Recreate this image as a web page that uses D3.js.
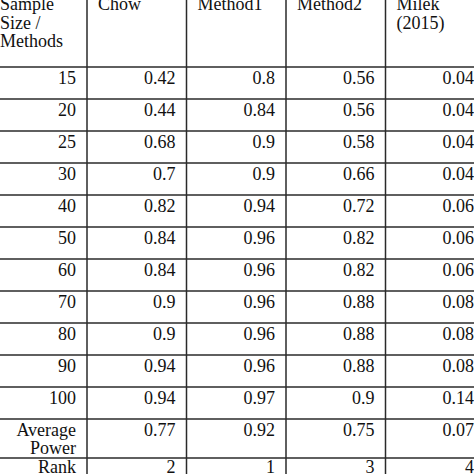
<!DOCTYPE html>
<html><head><meta charset="utf-8">
<script src="https://cdn.jsdelivr.net/npm/d3@7"></script>
<style>body{margin:0;background:#fff}</style>
</head><body>
<svg id="t" width="474" height="474"></svg>
<script>
var methods = ["Chow", "Method1", "Method2", "Milek\n(2015)"];
var sizes = ["15", "20", "25", "30", "40", "50", "60", "70", "80", "90", "100"];
var chow    = [0.42, 0.44, 0.68, 0.7, 0.82, 0.84, 0.84, 0.9, 0.9, 0.94, 0.94];
var method1 = [0.8, 0.84, 0.9, 0.9, 0.94, 0.96, 0.96, 0.96, 0.96, 0.96, 0.97];
var method2 = [0.56, 0.56, 0.58, 0.66, 0.72, 0.82, 0.82, 0.88, 0.88, 0.88, 0.9];
var milek   = [0.04, 0.04, 0.04, 0.04, 0.06, 0.06, 0.06, 0.08, 0.08, 0.08, 0.14];
var avgPower = [0.77, 0.92, 0.75, 0.07];
var ranks = [2, 1, 3, 4];

var svg = d3.select("#t");
var font = "Liberation Serif, Times New Roman, serif";

// column edges
var colX = d3.scaleLinear().domain([0, 1]).range([87, 186.5]);
// row edges: header ends at 67, data rows 32px each
var rowY = d3.scaleLinear().domain([0, 1]).range([67, 99]);
var avgTop = rowY(sizes.length), avgBottom = avgTop + 39;

var cols = [chow, method1, method2, milek];
var rows = sizes.map(function(s, i) {
    return { label: s, vals: cols.map(function(c) { return c[i]; }), y: rowY(i) + 17 };
});
rows.push({ label: ["Average", "Power"], vals: avgPower, y: avgTop + 17 });
rows.push({ label: "Rank", vals: ranks, y: avgBottom + 15 });

// lines
var hLines = [67].concat(d3.range(1, sizes.length + 1).map(rowY)).concat([avgBottom]);
svg.selectAll("line.h").data(hLines).enter().append("line")
    .attr("x1", 0).attr("x2", 474).attr("y1", function(d) { return d; }).attr("y2", function(d) { return d; })
    .attr("stroke", "#2a2a2a").attr("stroke-width", 1.5);
svg.selectAll("line.v").data(d3.range(4)).enter().append("line")
    .attr("x1", function(d) { return colX(d); }).attr("x2", function(d) { return colX(d); })
    .attr("y1", 0).attr("y2", 474)
    .attr("stroke", "#2a2a2a").attr("stroke-width", 1.5);

// header
var hdr = svg.append("g").attr("font-family", font).attr("font-size", 18).attr("fill", "#111");
hdr.append("text").selectAll("tspan").data(["Sample", "Size /", "Methods"]).enter().append("tspan")
    .attr("x", 0).attr("y", function(d, i) { return 10 + i * 18.5; }).text(function(d) { return d; });
methods.forEach(function(m, j) {
    hdr.append("text").selectAll("tspan").data(m.split("\n")).enter().append("tspan")
        .attr("x", colX(j) + 11).attr("y", function(d, i) { return 10 + i * 18.5; }).text(function(d) { return d; });
});

// body
var body = svg.append("g").attr("font-family", font).attr("font-size", 18).attr("fill", "#111")
    .attr("text-anchor", "end");
rows.forEach(function(r) {
    var lab = [].concat(r.label);
    body.append("text").selectAll("tspan").data(lab).enter().append("tspan")
        .attr("x", 76).attr("y", function(d, i) { return r.y + i * 18; }).text(function(d) { return d; });
    r.vals.forEach(function(v, j) {
        body.append("text").attr("x", colX(j + 1) - 11).attr("y", r.y).text(v);
    });
});
</script>
</body></html>
